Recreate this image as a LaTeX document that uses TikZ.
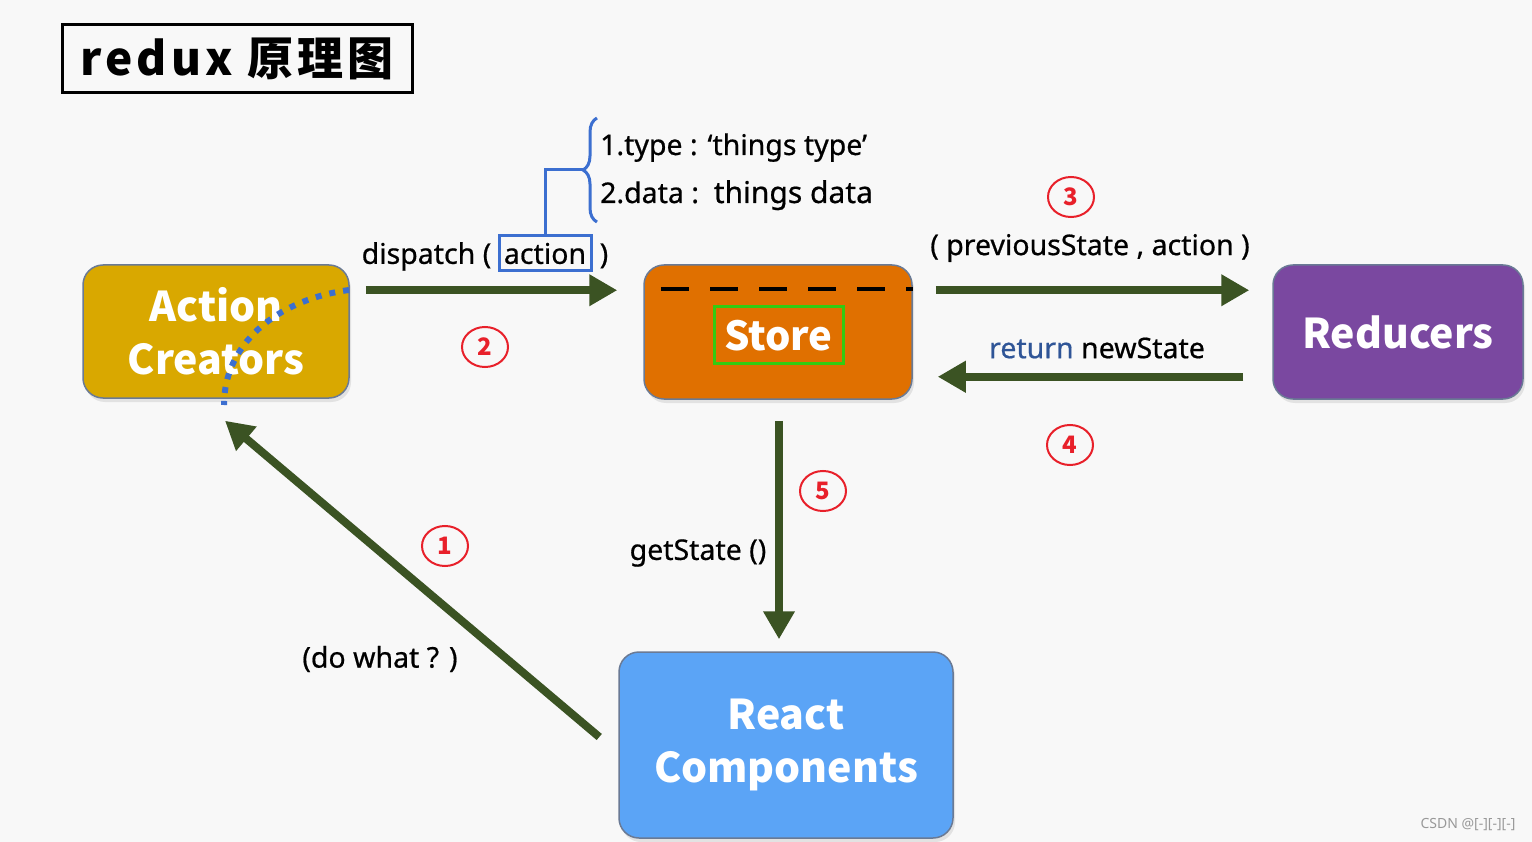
\documentclass[tikz,border=0pt]{standalone}
\usepackage{fontspec}
\setmainfont{Noto Sans}
\newfontfamily\cjk{Noto Sans CJK SC}
\newfontfamily\lblfont{Noto Sans}[FakeBold=0.6]
\newfontfamily\titlefont[LetterSpace=9]{Noto Sans CJK SC}
\usetikzlibrary{arrows.meta,decorations.pathreplacing,calc,shapes.geometric,shadows}
\definecolor{bg}{HTML}{F8F8F8}
\definecolor{gold}{HTML}{D9A800}
\definecolor{orng}{HTML}{E07000}
\definecolor{purp}{HTML}{7A48A0}
\definecolor{skyb}{HTML}{5BA4F6}
\definecolor{agreen}{HTML}{3B5323}
\definecolor{lblue}{HTML}{3C6FD0}
\definecolor{rblue}{HTML}{2F5597}
\definecolor{nred}{HTML}{E8202A}
\definecolor{edgec}{HTML}{6A7A95}
\definecolor{sgreen}{HTML}{33CC11}
\tikzset{
  box/.style={draw=edgec, line width=1.5pt, rounded corners=20pt, text=white, align=center,
    font=\cjk\bfseries\fontsize{41}{53}\selectfont,
    drop shadow={opacity=0.18, shadow xshift=2pt, shadow yshift=-4pt}},
  garrow/.style={draw=agreen, line width=8pt, -{Triangle[length=28pt,width=30pt]}},
  num/.style={ellipse, draw=nred, line width=2pt, text=nred, minimum width=46pt, minimum height=40pt,
    inner sep=0pt, font=\cjk\bfseries\fontsize{24}{24}\selectfont},
  lbl/.style={text=black, font=\lblfont\fontsize{28.5}{32}\selectfont, inner sep=0pt},
}
\begin{document}
\begin{tikzpicture}[x=1pt,y=-1pt]
\fill[bg] (0,0) rectangle (1532,842);
% title
\node[draw=black, line width=3pt, minimum width=350pt, minimum height=68pt, inner sep=0pt,
  font=\titlefont\bfseries\fontsize{46}{50}\selectfont] (title) at (237,59) {redux 原理图};
% boxes
\node[box, fill=gold, minimum width=266pt, minimum height=133pt] (ac) at (216,331.5) {Action\\Creators};
\node[box, fill=orng, minimum width=268pt, minimum height=134pt] (st) at (778,332) {};
\node[box, fill=purp, minimum width=250pt, minimum height=134pt] (rd) at (1398,332) {Reducers};
\node[box, fill=skyb, minimum width=334pt, minimum height=186pt] (rc) at (786,745) {React\\Components};
% store interior
\draw[black, line width=4.5pt, dash pattern=on 28pt off 21pt] ($(st.north west)+(18,25)$) coordinate (dashA) -- ($(st.north east)+(0,25)$) coordinate (dashB);
\node[draw=sgreen, line width=3pt, minimum width=129pt, minimum height=57pt, inner sep=0pt, text=white,
  font=\cjk\bfseries\fontsize{40}{40}\selectfont] (stl) at (778.5,335.5) {Store};
% dotted curve
\coordinate (dcA) at (349,290);
\coordinate (dcB) at (224,405);
\draw[lblue, line width=6pt, dash pattern=on 6pt off 8pt] (dcA) .. controls (275,300) and (224,345) .. (dcB);
% arrows
\draw[garrow] ($(ac.north east)+(16,26)$) coordinate (a2s) -- ($(st.north west)+(-26,26)$) coordinate (a2e);
\draw[garrow] ($(st.north east)+(23,26)$) coordinate (a3s) -- ($(rd.north west)+(-23,26)$) coordinate (a3e);
\draw[garrow] ($(rd.south west)+(-29,-23)$) coordinate (a4s) -- ($(st.south east)+(25,-23)$) coordinate (a4e);
\draw[garrow] ($(st.south)+(1,21)$) coordinate (a5s) -- ($(rc.north)+(-7,-12)$) coordinate (a5e);
\draw[garrow] ($(rc.west)+(-19,-8)$) coordinate (a1s) -- ($(ac.south)+(9,22)$) coordinate (a1e);
% action label
\node[draw=lblue, line width=3pt, minimum width=92pt, minimum height=35pt, inner sep=0pt, lbl] (act) at (545,253.5) {action};
\node[lbl, anchor=base east] (disp) at ($(act.base west)+(-6,0)$) {dispatch (};
\node[lbl, anchor=base west] (close) at ($(act.base east)+(7,0)$) {)};
% brace
\coordinate (btip) at (583,170);
\draw[lblue, line width=3pt, decorate, decoration={brace, amplitude=14pt}] (597,222) -- (597,118);
\draw[lblue, line width=3pt] (act.north) |- (btip);
\node[lbl, anchor=base west] (t1) at (600,155) {1.type : ‘things type’};
\node[lbl, anchor=base west] (t2) at (600,203) {2.data :\ \ {\fontsize{30}{32}\selectfont things data}};
% other labels
\node[lbl] (l3) at (1090,248) {( previousState , action )};
\node[lbl] (l4) at (1097,348) {\textcolor{rblue}{return} newState};
\node[lbl] (l5) at (698,553) {getState ()};
\node[lbl] (l1) at (380,659) {(do what ? )};
% numbers
\node[num] (n1) at (445,546) {1};
\node[num] (n2) at (485,347) {2};
\node[num] (n3) at (1071,197) {3};
\node[num] (n4) at (1070,445) {4};
\node[num] (n5) at (823,491) {5};
% watermark
\node[text=gray!80, font=\fontsize{14}{14}\selectfont, inner sep=0pt] (wm) at (1468,825) {CSDN @[-][-][-]};
\end{tikzpicture}
\end{document}
